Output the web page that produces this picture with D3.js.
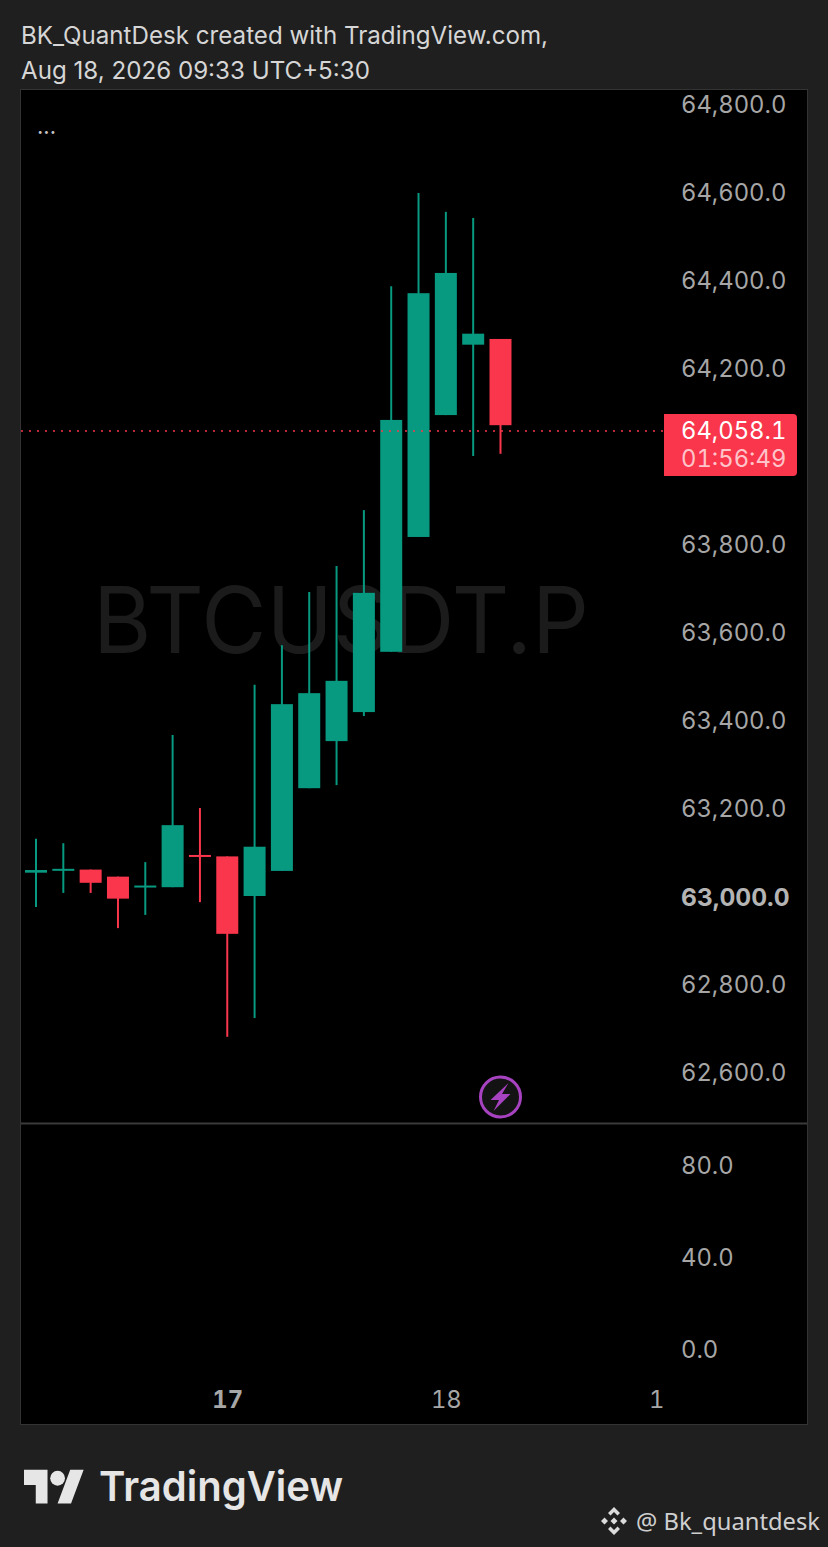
<!DOCTYPE html>
<html><head><meta charset="utf-8">
<script src="https://cdn.jsdelivr.net/npm/d3@7/dist/d3.min.js"></script>
<style>html,body{margin:0;padding:0;background:#1f1f1f}svg{display:block}.num{font-variant-numeric:tabular-nums}</style>
</head><body><svg id="c" width="828" height="1547"></svg>
<script>
const opens  = [63053,63058,63060,63044,63020,63020,63092,63090,63000,63057,63245,63352,63418,63555,63816,64093,64253,64266];
const closes = [63059,63061,63030,62994,63023,63161,63090,62914,63112,63436,63461,63489,63689,64082,64370,64416,64278,64070];
const highs  = [63130,63120,63060,63044,63077,63366,63200,63090,63480,63570,63691,63750,63877,64386,64598,64555,64541,64266];
const lows   = [62975,63007,63007,62927,62957,63020,62986,62680,62723,63057,63245,63252,63409,63555,63816,64093,64000,64005];
const priceTicks = [62600,62800,63000,63200,63400,63600,63800,64200,64400,64600,64800];
const boldTick = 63000;
const volumeTicks = [0,40,80];
const timeTicks = [7,15,22.7];
const timeLabels = ["17","18","1"];
const lastPrice = 64058.1;
const countdown = "01:56:49";
const headerLines = ["BK_QuantDesk created with TradingView.com,","Aug 18, 2026 09:33 UTC+5:30"];
const symbol = "BTCUSDT.P";
const UP="#089981", DOWN="#f9364b";
const FONT="Inter, 'Noto Sans', sans-serif";
const AXIS_SIZE=23.8;

const svg=d3.select("#c");
svg.append("rect").attr("width",828).attr("height",1547).attr("fill","#1f1f1f");
svg.selectAll(".hdr").data(headerLines).join("text").attr("class","hdr")
  .attr("x",21).attr("y",(d,i)=>44+i*35).attr("fill","#d6d6d6")
  .attr("font-family",FONT).attr("font-size",24.15).text(d=>d);

// panes
svg.append("rect").attr("x",20.5).attr("y",89.5).attr("width",787).attr("height",1335)
  .attr("fill","#000").attr("stroke","#333");
svg.append("line").attr("x1",21).attr("x2",807).attr("y1",1123.5).attr("y2",1123.5).attr("stroke","#3a3a3a").attr("stroke-width",2);

const y=d3.scaleLinear().domain([62600,64800]).range([1072,104]);
const x=d3.scaleLinear().domain([0,17]).range([36,500.5]);
const yVol=d3.scaleLinear().domain([0,80]).range([1349,1165]);

svg.append("text").attr("x",341).attr("y",653).attr("text-anchor","middle").attr("fill","#1b1b1b")
  .attr("font-family",FONT).attr("font-size",92).attr("textLength",496).attr("lengthAdjust","spacingAndGlyphs").text(symbol);
svg.append("text").attr("x",37).attr("y",134).attr("fill","#c4c4c4").attr("font-family",FONT).attr("font-size",22).text("...");

// candles
const idx=d3.range(opens.length);
const col=i=>closes[i]>=opens[i]?UP:DOWN;
svg.append("g").selectAll("line").data(idx).join("line")
  .attr("x1",x).attr("x2",x).attr("y1",i=>y(highs[i])).attr("y2",i=>y(lows[i]))
  .attr("stroke",col).attr("stroke-width",2);
svg.append("g").selectAll("rect").data(idx).join("rect")
  .attr("x",i=>x(i)-11).attr("width",22)
  .attr("y",i=>{const t=y(Math.max(opens[i],closes[i])),b=y(Math.min(opens[i],closes[i]));return b-t<2?(t+b)/2-1:t;})
  .attr("height",i=>Math.max(2,Math.abs(y(opens[i])-y(closes[i]))))
  .attr("fill",col);

// last price line
svg.append("line").attr("x1",21).attr("x2",664).attr("y1",y(lastPrice)+0.6).attr("y2",y(lastPrice)+0.6)
  .attr("stroke",DOWN).attr("stroke-width",1.6).attr("stroke-dasharray","2 6");

// axes
function styleAxis(g){g.select(".domain").remove();g.selectAll(".tick line").remove();
  g.selectAll("text").attr("class","num").attr("x",0).attr("y",0).attr("dy",null).attr("dominant-baseline","central")
   .attr("fill","#a6a6a6").attr("font-family",FONT).attr("font-size",AXIS_SIZE);}
const gP=svg.append("g").attr("transform","translate(681,0)")
  .call(d3.axisRight(y).tickValues(priceTicks).tickFormat(d3.format(",.1f"))).call(styleAxis);
gP.selectAll("text").attr("font-weight",d=>d===boldTick?700:400).attr("fill",d=>d===boldTick?"#b4b4b4":"#a6a6a6")
  .filter(d=>d===boldTick).attr("font-size",24.6);
svg.append("g").attr("transform","translate(681,0)")
  .call(d3.axisRight(yVol).tickValues(volumeTicks).tickFormat(d3.format(".1f"))).call(styleAxis);
const gT=svg.append("g").attr("transform","translate(0,1399)")
  .call(d3.axisBottom(x).tickValues(timeTicks).tickFormat((d,i)=>timeLabels[i]));
gT.select(".domain").remove();gT.selectAll(".tick line").remove();
gT.selectAll("text").attr("class","num").attr("y",0).attr("dy",null).attr("dominant-baseline","central").attr("text-anchor","middle")
  .attr("fill","#a6a6a6").attr("font-family",FONT).attr("font-size",AXIS_SIZE)
  .attr("font-weight",(d,i)=>i===0?700:400);

// last price label
svg.append("path").attr("d","M664 414H793a4 4 0 0 1 4 4V472a4 4 0 0 1 -4 4H664Z").attr("fill",DOWN);
svg.append("text").attr("class","num").attr("x",681).attr("y",430).attr("dominant-baseline","central").attr("fill","#fff")
  .attr("font-family",FONT).attr("font-size",AXIS_SIZE).text(d3.format(",.1f")(lastPrice));
svg.append("text").attr("class","num").attr("x",681).attr("y",458).attr("dominant-baseline","central").attr("fill","#ffc4ca")
  .attr("font-family",FONT).attr("font-size",AXIS_SIZE).text(countdown);

// lightning badge
const b=svg.append("g").attr("transform","translate(500.5,1097)");
b.append("circle").attr("r",20).attr("fill","#131313").attr("stroke","#a742c0").attr("stroke-width",3);
b.append("path").attr("d","M8 -14L-10 3H-1.5L-7 14L10 -3H1.5Z").attr("fill","#a742c0");

// TradingView logo
const l=svg.append("g").attr("transform","translate(24,1466.5) scale(1.68)").attr("fill","#e6e6e6");
l.append("path").attr("d","M14 22H7V11H0V2h14v20zM28 22h-8l7.5-20h8L28 22z");
l.append("circle").attr("cx",20).attr("cy",7).attr("r",4.4);
svg.append("text").attr("x",99).attr("y",1501).attr("fill","#e6e6e6").attr("font-family",FONT)
  .attr("font-weight",600).attr("font-size",41).attr("textLength",244).attr("lengthAdjust","spacingAndGlyphs").text("TradingView");

// watermark
const w=svg.append("g").attr("transform","translate(614,1521)").attr("fill","#dcdcdc");
w.append("path").attr("d","M0 -14L6 -8L3.5 -5.5L0 -9L-3.5 -5.5L-6 -8ZM0 14L6 8L3.5 5.5L0 9L-3.5 5.5L-6 8ZM-13 0L-9.5 -3.5L-6 0L-9.5 3.5ZM13 0L9.5 -3.5L6 0L9.5 3.5ZM0 -3.5L3.5 0L0 3.5L-3.5 0Z");
svg.append("text").attr("x",636).attr("y",1530).attr("fill","#cfcfcf").attr("font-family","'Noto Sans', sans-serif")
  .attr("font-size",24).attr("textLength",184).attr("lengthAdjust","spacingAndGlyphs").text("@ Bk_quantdesk");
</script></body></html>
